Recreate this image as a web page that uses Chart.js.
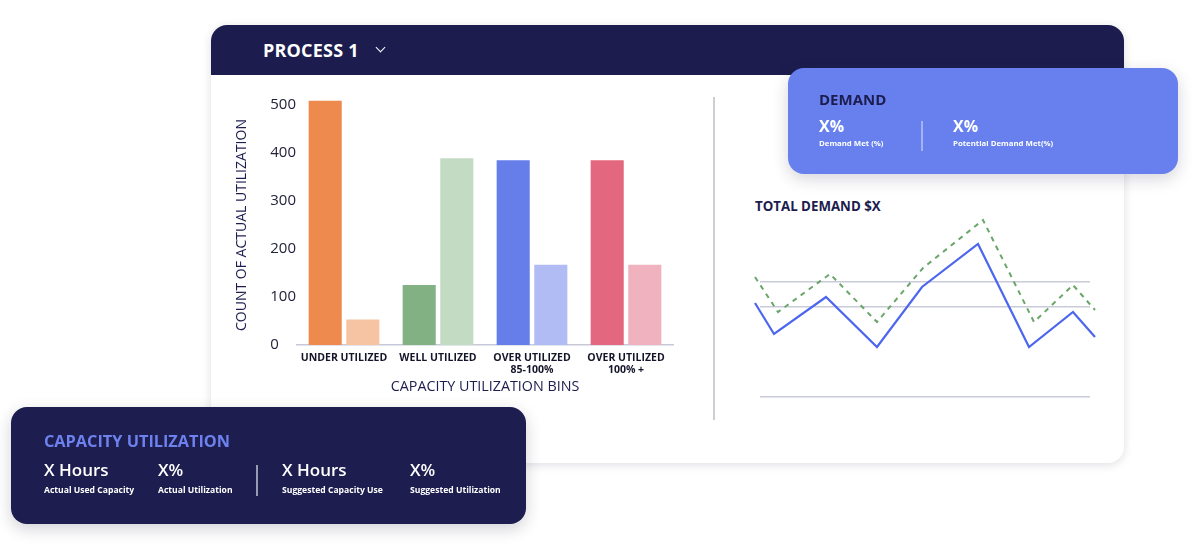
<!DOCTYPE html>
<html>
<head>
<meta charset="utf-8">
<script src="https://cdn.jsdelivr.net/npm/chart.js@4.4.1/dist/chart.umd.min.js"></script>
<style>
  body { margin: 0; width: 1200px; height: 550px; background: #fff; position: relative; overflow: hidden; font-family: "Open Sans", sans-serif; }
  .abs { position: absolute; }
  #main { left: 211px; top: 25px; width: 913px; height: 438px; background: #fff; border-radius: 16px; box-shadow: 0 2px 10px rgba(30,30,60,0.14); overflow: hidden; }
  #header { left: 0; top: 0; width: 913px; height: 50px; background: #1c1c4e; }
  #header .ttl { left: 52px; top: 13px; color: #fff; font-weight: 700; font-size: 18px; line-height: 24px; letter-spacing: 0.2px; }
  #header .chev { left: 166px; top: 19px; width: 6px; height: 6px; border-right: 1.6px solid #fff; border-bottom: 1.6px solid #fff; transform: rotate(45deg); }
  #split { left: 502px; top: 72px; width: 1.5px; height: 323px; background: #cdcdd4; }
  #barBox { left: 230px; top: 90px; width: 460px; height: 310px; }
  #lineBox { left: 750px; top: 190px; width: 350px; height: 212px; }
  #lineTitle { left: 755px; top: 197px; color: #1c1c4e; font-weight: 700; font-size: 13.3px; line-height: 18px; }
  #demand { left: 788px; top: 68px; width: 390px; height: 106px; background: #6780ee; border-radius: 16px; box-shadow: 0 5px 16px rgba(30,30,60,0.18); }
  #demand .h { left: 31px; top: 21px; color: #1c1c4e; font-weight: 700; font-size: 15px; line-height: 20px; }
  .big { color: #fff; font-weight: 700; font-size: 16px; line-height: 20px; }
  .small { color: #fff; font-weight: 700; font-size: 7.8px; line-height: 10px; white-space: nowrap; }
  #demand .big { top: 48px; }
  #demand .small { top: 70px; }
  #demand .bar { left: 133px; top: 53px; width: 1.5px; height: 30px; background: rgba(255,255,255,0.4); }
  #capacity { left: 11px; top: 407px; width: 515px; height: 117px; background: #1d1d4f; border-radius: 16px; box-shadow: 0 5px 16px rgba(30,30,60,0.2); }
  #capacity .h { left: 33px; top: 24px; color: #6d82ee; font-weight: 700; font-size: 16.3px; line-height: 20px; }
  #capacity .big { top: 52px; font-size: 17px; font-weight: 600; line-height: 22px; }
  #capacity .small { top: 78px; font-size: 8.6px; }
  #capacity .bar { left: 245px; top: 58px; width: 1.5px; height: 31px; background: rgba(255,255,255,0.55); }
</style>
</head>
<body>
<div id="main" class="abs">
  <div id="header" class="abs">
    <div class="abs ttl">PROCESS 1</div>
    <div class="abs chev"></div>
  </div>
  <div id="split" class="abs"></div>
</div>

<div id="barBox" class="abs"><canvas id="utilChart"></canvas></div>
<div id="lineTitle" class="abs">TOTAL DEMAND $X</div>
<div id="lineBox" class="abs"><canvas id="demandChart"></canvas></div>

<div id="demand" class="abs">
  <div class="abs h">DEMAND</div>
  <div class="abs big" style="left:31px">X%</div>
  <div class="abs small" style="left:31px">Demand Met (%)</div>
  <div class="abs bar"></div>
  <div class="abs big" style="left:165px">X%</div>
  <div class="abs small" style="left:165px">Potential Demand Met(%)</div>
</div>

<div id="capacity" class="abs">
  <div class="abs h">CAPACITY UTILIZATION</div>
  <div class="abs big" style="left:33px">X Hours</div>
  <div class="abs small" style="left:33px">Actual Used Capacity</div>
  <div class="abs big" style="left:147px">X%</div>
  <div class="abs small" style="left:147px">Actual Utilization</div>
  <div class="abs bar"></div>
  <div class="abs big" style="left:271px">X Hours</div>
  <div class="abs small" style="left:271px">Suggested Capacity Use</div>
  <div class="abs big" style="left:399px">X%</div>
  <div class="abs small" style="left:399px">Suggested Utilization</div>
</div>

<script>
// capacity utilization bins
const binLabels = [["UNDER UTILIZED"], ["WELL UTILIZED"], ["OVER UTILIZED", "85-100%"], ["OVER UTILIZED", "100% +"]];
const actualCounts = [509, 125, 385, 385];
const suggestedCounts = [53, 389, 167, 167];
const countTicks = [0, 100, 200, 300, 400, 500];

// total demand lines (x = period, y = amount)
const demandPeriods = [-0.5, 1.4, 6.6, 11.7, 16.2, 21.8, 26.9, 31.3, 33.5];
const demandMet = [94, 63, 100, 50, 110, 153, 50, 85, 60];
const potentialPeriods = [-0.5, 1.8, 7.0, 11.7, 16.3, 22.3, 27.4, 31.3, 33.5];
const potentialDemand = [120, 85, 123, 75, 129, 177, 75, 112, 87];
const demandGrid = [0, 90, 115];

const strongColors = ["#ef8a4f", "#82b183", "#667eea", "#e3677f"];
const softColors = ["#f6c4a2", "#c3dbc3", "#b1bcf4", "#f0b2bf"];
const navy = "#1c1c4e";

Chart.defaults.font.family = "'Open Sans', sans-serif";
Chart.defaults.animation = false;

new Chart(document.getElementById("utilChart"), {
  type: "bar",
  data: {
    labels: binLabels,
    datasets: [
      { label: "Actual", data: actualCounts, backgroundColor: strongColors, clip: false },
      { label: "Suggested", data: suggestedCounts, backgroundColor: softColors, clip: false }
    ]
  },
  options: {
    responsive: true,
    maintainAspectRatio: false,
    layout: { padding: { top: 15, right: 17, bottom: 0, left: 0 } },
    datasets: { bar: { categoryPercentage: 0.8, barPercentage: 0.88 } },
    plugins: { legend: { display: false }, tooltip: { enabled: false } },
    scales: {
      x: {
        grid: { display: false, drawTicks: false },
        border: { display: true, color: "#c7c8d8", width: 1.5 },
        ticks: { color: "#15152a", padding: 8, maxRotation: 0, font: { size: 10.5, weight: "bold", lineHeight: 1.05 } },
        title: { display: true, text: "CAPACITY UTILIZATION BINS", color: navy, font: { size: 14.3, weight: "500" } },
        afterFit(scale) { scale.height = 55; }
      },
      y: {
        min: 0,
        max: 500,
        grid: { display: false, drawTicks: false },
        border: { display: false },
        afterBuildTicks(scale) { scale.ticks = countTicks.map(v => ({ value: v })); },
        // pad short labels with figure spaces so they line up on the left
        ticks: {
          color: "#22223a", padding: 1, crossAlign: "near", font: { size: 15 },
          callback: v => String(v) + "\u2007".repeat(3 - String(v).length)
        },
        title: { display: true, text: "COUNT OF ACTUAL UTILIZATION", color: navy, font: { size: 14, weight: "500" } },
        afterFit(scale) { scale.width = 67; }
      }
    }
  }
});

new Chart(document.getElementById("demandChart"), {
  type: "line",
  data: {
    datasets: [
      {
        label: "Demand Met",
        data: demandPeriods.map((x, i) => ({ x: x, y: demandMet[i] })),
        borderColor: "#4d66ee", borderWidth: 2.2, pointRadius: 0, tension: 0, clip: false
      },
      {
        label: "Potential Demand",
        data: potentialPeriods.map((x, i) => ({ x: x, y: potentialDemand[i] })),
        borderColor: "#6aa66a", borderWidth: 2, borderDash: [5, 5], pointRadius: 0, tension: 0, clip: false
      }
    ]
  },
  options: {
    responsive: true,
    maintainAspectRatio: false,
    layout: { padding: { top: 7, right: 10, bottom: 5, left: 10 } },
    plugins: { legend: { display: false }, tooltip: { enabled: false } },
    scales: {
      x: { type: "linear", min: 0, max: 33, display: false },
      y: {
        min: 0,
        max: 200,
        afterBuildTicks(scale) { scale.ticks = demandGrid.map(v => ({ value: v })); },
        grid: { color: "#c9cbd9", lineWidth: 1.5, drawTicks: false },
        border: { display: false },
        ticks: { display: false },
        afterFit(scale) { scale.width = 0; }
      }
    }
  }
});
</script>
</body>
</html>
